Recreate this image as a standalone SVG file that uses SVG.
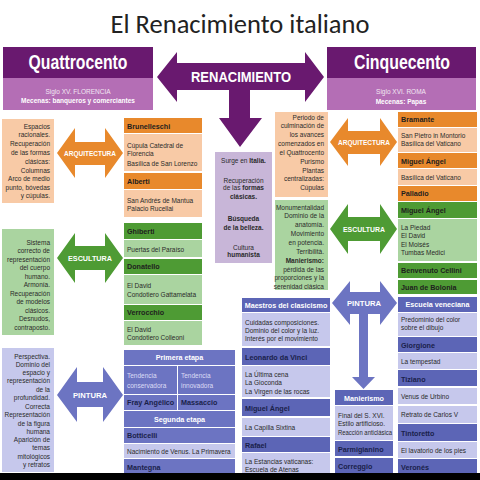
<svg xmlns="http://www.w3.org/2000/svg" width="480" height="480" viewBox="0 0 480 480">
<style>
text{font-family:"Liberation Sans Narrow","Arial Narrow","Liberation Sans",sans-serif;}
.t{font-family:"Carlito","Lato","Open Sans",sans-serif;font-size:26.5px;fill:#222;text-anchor:middle}
.d{font-size:6.5px;fill:#2a2a2a}
.e{text-anchor:end}
.m{text-anchor:middle}
.b{font-weight:bold}
.h{font-size:7.2px;font-weight:bold;fill:#1e1e1e}
.w{fill:#fff}
.lt{fill:#dcdcf6}
.ar{font-size:7.2px;font-weight:bold;fill:#fff;text-anchor:middle}
.pu{fill:#69196f}.mv{fill:#b46eb5}.cl{fill:#c8b6d8}
.or{fill:#e8892c}.pe{fill:#f8caa6}
.gr{fill:#4e9b34}.lg{fill:#aad4a0}
.bl{fill:#5c65b6}.mb{fill:#6c74c2}.lv{fill:#c6c8ec}
.nv{fill:#1a1f4a}
</style>
<rect width="480" height="480" fill="#fff"/>
<text class="t" x="240" y="33">El Renacimiento italiano</text>

<g id="connectors">
<path class="pu" d="M157,77 L177,52 L177,63 L305,63 L305,52 L324,77 L305,102 L305,90 L250,90 L250,118 L262,118 L240,147 L219,118 L229,118 L229,90 L177,90 L177,102 Z"/>
<text class="ar" x="241" y="82" style="font-size:15.5px" textLength="100" lengthAdjust="spacingAndGlyphs">RENACIMIENTO</text>
<polygon class="or" points="57,153 75,128 75,142 105,142 105,128 123,153 105,178 105,165 75,165 75,178"/>
<text class="ar" x="90" y="156" textLength="52" lengthAdjust="spacingAndGlyphs">ARQUITECTURA</text>
<polygon class="gr" points="57,258 75,233 75,246 105,246 105,233 123,258 105,283 105,270 75,270 75,283"/>
<text class="ar" x="90" y="261" textLength="44" lengthAdjust="spacingAndGlyphs">ESCULTURA</text>
<polygon class="mb" points="57,395 77,367 77,382 103,382 103,367 123,395 103,422 103,407 77,407 77,422"/>
<text class="ar" x="90" y="398" textLength="34" lengthAdjust="spacingAndGlyphs">PINTURA</text>
<polygon class="or" points="330,142 348,118 348,131 380,131 380,118 397,142 380,166 380,154 348,154 348,166"/>
<text class="ar" x="364" y="145" textLength="52" lengthAdjust="spacingAndGlyphs">ARQUITECTURA</text>
<polygon class="gr" points="330,229 348,204 348,217 380,217 380,204 397,229 380,254 380,241 348,241 348,254"/>
<text class="ar" x="364" y="232" textLength="42" lengthAdjust="spacingAndGlyphs">ESCULTURA</text>
<path class="mb" d="M332,303 L350,281 L350,292 L380,292 L380,281 L397,303 L380,325 L380,314 L368,314 L368,377 L375,377 L363.5,389 L352,377 L359,377 L359,314 L350,314 L350,325 Z"/>
<text class="ar" x="364" y="306" textLength="34" lengthAdjust="spacingAndGlyphs">PINTURA</text>
</g>

<g id="quattrocento">
<rect class="pu" x="3" y="47" width="150" height="31"/>
<rect class="mv" x="3" y="78" width="150" height="32"/>
<text class="b w m" x="78" y="69" style="font-size:20px" textLength="99" lengthAdjust="spacingAndGlyphs">Quattrocento</text>
<text class="d w m" x="78" y="94" style="fill:#f2e6f2">Siglo XV. FLORENCIA</text>
<text class="d w m b" x="78" y="103">Mecenas: banqueros y comerciantes</text>
</g>

<g id="cinquecento">
<rect class="pu" x="327" y="47" width="149" height="31"/>
<rect class="mv" x="327" y="78" width="149" height="32"/>
<text class="b w m" x="402" y="69" style="font-size:20px" textLength="96" lengthAdjust="spacingAndGlyphs">Cinquecento</text>
<text class="d w m" x="401" y="94" style="fill:#f2e6f2">Siglo XVI. ROMA</text>
<text class="d w m b" x="401" y="104">Mecenas: Papas</text>
</g>

<g id="renacimiento-centro">
<rect class="cl" x="215" y="152" width="57" height="111"/>
<text class="d m" x="243.5" y="162.5">Surge en <tspan class="b">Italia.</tspan></text>
<text class="d m" x="243.5" y="182.5">Recuperación</text>
<text class="d m" x="243.5" y="190"><tspan>de las </tspan><tspan class="b">formas</tspan></text>
<text class="d m b" x="243.5" y="198.5">clásicas.</text>
<text class="d m b" x="243.5" y="220.5">Búsqueda</text>
<text class="d m b" x="243.5" y="229.5">de la belleza.</text>
<text class="d m" x="243.5" y="249.5">Cultura</text>
<text class="d m b" x="243.5" y="257">humanista</text>
</g>

<g id="q-arquitectura">
<rect class="pe" x="2" y="119" width="52" height="84"/>
<text class="d e" x="50" y="128.5">Espacios</text>
<text class="d e" x="50" y="137">racionales.</text>
<text class="d e" x="50" y="146">Recuperación</text>
<text class="d e" x="50" y="155">de las formas</text>
<text class="d e" x="50" y="164">clásicas:</text>
<text class="d e" x="50" y="172.5">Columnas</text>
<text class="d e" x="50" y="180.5">Arco de medio</text>
<text class="d e" x="50" y="189.5">punto, bóvedas</text>
<text class="d e" x="50" y="197.5">y cúpulas.</text>
</g>

<g id="q-arq-lista">
<rect class="or" x="124" y="118" width="78" height="15"/>
<text class="h" x="127" y="128.5">Brunelleschi</text>
<rect class="pe" x="124" y="134" width="78" height="37"/>
<text class="d" x="127" y="147.5">Cúpula Catedral de</text>
<text class="d" x="127" y="155.5">Florencia</text>
<text class="d" x="127" y="165.5">Basílica de San Lorenzo</text>
<rect class="or" x="124" y="173" width="78" height="16"/>
<text class="h" x="127" y="184">Alberti</text>
<rect class="pe" x="124" y="190" width="78" height="27"/>
<text class="d" x="127" y="202.5">San Andrés de Mantua</text>
<text class="d" x="127" y="210.5">Palacio Rucellai</text>
</g>

<g id="q-escultura">
<rect class="lg" x="2" y="229" width="52" height="106"/>
<text class="d e" x="50" y="244.5">Sistema</text>
<text class="d e" x="50" y="253">correcto de</text>
<text class="d e" x="50" y="261.5">representación</text>
<text class="d e" x="50" y="270">del cuerpo</text>
<text class="d e" x="50" y="278.5">humano.</text>
<text class="d e" x="50" y="287">Armonía.</text>
<text class="d e" x="50" y="295.5">Recuperación</text>
<text class="d e" x="50" y="304">de modelos</text>
<text class="d e" x="50" y="312.5">clásicos.</text>
<text class="d e" x="50" y="321">Desnudos,</text>
<text class="d e" x="50" y="329.5">contraposto.</text>
</g>

<g id="q-esc-lista">
<rect class="gr" x="124" y="223" width="78" height="16"/>
<text class="h" x="127" y="234">Ghiberti</text>
<rect class="lg" x="124" y="240" width="78" height="17"/>
<text class="d" x="127" y="251.5">Puertas del Paraíso</text>
<rect class="gr" x="124" y="259" width="78" height="15"/>
<text class="h" x="127" y="269">Donatello</text>
<rect class="lg" x="124" y="275" width="78" height="29"/>
<text class="d" x="127" y="287.5">El David</text>
<text class="d" x="127" y="296.5">Condotiero Gattamelata</text>
<rect class="gr" x="124" y="305" width="78" height="15"/>
<text class="h" x="127" y="315">Verrocchio</text>
<rect class="lg" x="124" y="321" width="78" height="24"/>
<text class="d" x="127" y="331.5">El David</text>
<text class="d" x="127" y="339.5">Condotiero Colleoni</text>
</g>

<g id="q-pintura">
<rect class="lv" x="2" y="348" width="52" height="124"/>
<text class="d e" x="50" y="358.5">Perspectiva.</text>
<text class="d e" x="50" y="366.5">Dominio del</text>
<text class="d e" x="50" y="374.5">espacio y</text>
<text class="d e" x="50" y="382.5">representación</text>
<text class="d e" x="50" y="391.5">de la</text>
<text class="d e" x="50" y="399.5">profundidad.</text>
<text class="d e" x="50" y="408.5">Correcta</text>
<text class="d e" x="50" y="416.5">Representación</text>
<text class="d e" x="50" y="425.5">de la figura</text>
<text class="d e" x="50" y="433.5">humana</text>
<text class="d e" x="50" y="441.5">Aparición de</text>
<text class="d e" x="50" y="449.5">temas</text>
<text class="d e" x="50" y="458.5">mitológicos</text>
<text class="d e" x="50" y="466.5">y retratos</text>
</g>

<g id="q-pint-lista">
<rect class="mb" x="124" y="350" width="111" height="15"/>
<text class="h w m" x="179.5" y="360">Primera etapa</text>
<rect class="mb" x="124" y="366" width="53" height="28"/>
<rect class="mb" x="178" y="366" width="57" height="28"/>
<text class="d lt" x="127" y="377.5">Tendencia</text>
<text class="d lt" x="127" y="387.5">conservadora</text>
<text class="d lt" x="181" y="377.5">Tendencia</text>
<text class="d lt" x="181" y="387.5">innovadora</text>
<rect class="mb" x="124" y="395" width="53" height="15"/>
<rect class="mb" x="178" y="395" width="57" height="15"/>
<text class="h nv" x="127" y="405">Fray Angélico</text>
<text class="h nv" x="181" y="405">Massaccio</text>
<rect class="mb" x="124" y="411" width="111" height="16"/>
<text class="h w m" x="179.5" y="421.5">Segunda etapa</text>
<rect class="mb" x="124" y="428" width="111" height="15"/>
<text class="h nv" x="127" y="438">Botticelli</text>
<rect class="lv" x="124" y="444" width="111" height="14"/>
<text class="d" x="127" y="453.5">Nacimiento de Venus. La Primavera</text>
<rect class="mb" x="124" y="459" width="111" height="14"/>
<text class="h nv" x="127" y="470">Mantegna</text>
</g>

<g id="c-arquitectura">
<rect class="pe" x="275" y="112" width="53" height="85"/>
<text class="d e" x="324" y="119.5">Periodo de</text>
<text class="d e" x="324" y="127.5">culminación de</text>
<text class="d e" x="324" y="136.5">los avances</text>
<text class="d e" x="324" y="145.5">comenzados en</text>
<text class="d e" x="324" y="154.5">el Quattrocento</text>
<text class="d e" x="324" y="163.5">Purismo</text>
<text class="d e" x="324" y="172.5">Plantas</text>
<text class="d e" x="324" y="180.5">centralizadas:</text>
<text class="d e" x="324" y="189.5">Cúpulas</text>
</g>

<g id="c-arq-lista">
<rect class="or" x="398" y="112" width="79" height="15"/>
<text class="h" x="401" y="122">Bramante</text>
<rect class="pe" x="398" y="128" width="79" height="24"/>
<text class="d" x="401" y="137.5">San Pietro in Montorio</text>
<text class="d" x="401" y="145.5">Basílica del Vaticano</text>
<rect class="or" x="398" y="153" width="79" height="15"/>
<text class="h" x="401" y="163.5">Miguel Ángel</text>
<rect class="pe" x="398" y="169" width="79" height="16"/>
<text class="d" x="401" y="179.5">Basílica del Vaticano</text>
<rect class="or" x="398" y="186" width="79" height="15"/>
<text class="h" x="401" y="196">Palladio</text>
</g>

<g id="c-escultura">
<rect class="lg" x="275" y="200" width="53" height="90"/>
<text class="d e" x="324" y="209.5">Monumentalidad</text>
<text class="d e" x="324" y="218">Dominio de la</text>
<text class="d e" x="324" y="227">anatomía.</text>
<text class="d e" x="324" y="236">Movimiento</text>
<text class="d e" x="324" y="245">en potencia.</text>
<text class="d e" x="324" y="253.5">Terribilità.</text>
<text class="d e b" x="324" y="262.5">Manierismo:</text>
<text class="d e" x="324" y="271.5">pérdida de las</text>
<text class="d e" x="324" y="280">proporciones y la</text>
<text class="d e" x="324" y="289">serenidad clásica</text>
</g>

<g id="c-esc-lista">
<rect class="gr" x="398" y="202" width="79" height="16"/>
<text class="h" x="401" y="213">Miguel Ángel</text>
<rect class="lg" x="398" y="219" width="79" height="42"/>
<text class="d" x="401" y="229.5">La Piedad</text>
<text class="d" x="401" y="237.5">El David</text>
<text class="d" x="401" y="246.5">El Moisés</text>
<text class="d" x="401" y="254.5">Tumbas Medici</text>
<rect class="gr" x="398" y="263" width="79" height="15"/>
<text class="h" x="401" y="273">Benvenuto Cellini</text>
<rect class="gr" x="398" y="280" width="79" height="14"/>
<text class="h" x="401" y="290">Juan de Bolonia</text>
</g>

<g id="c-maestros">
<rect class="bl" x="242" y="298" width="88" height="14"/>
<text class="h w m" x="286" y="308">Maestros del clasicismo</text>
<rect class="lv" x="242" y="313" width="88" height="33"/>
<text class="d" x="245" y="324.5">Cuidadas composiciones.</text>
<text class="d" x="245" y="332.5">Dominio del color y la luz.</text>
<text class="d" x="245" y="340.5">Interés por el movimiento</text>
<rect class="bl" x="242" y="348" width="88" height="17"/>
<text class="h nv" x="245" y="359.5">Leonardo da Vinci</text>
<rect class="lv" x="242" y="366" width="88" height="31"/>
<text class="d" x="245" y="376.5">La Última cena</text>
<text class="d" x="245" y="385">La Gioconda</text>
<text class="d" x="245" y="393.5">La Virgen de las rocas</text>
<rect class="bl" x="242" y="399" width="88" height="17"/>
<text class="h nv" x="245" y="410.5">Miguel Ángel</text>
<rect class="lv" x="242" y="418" width="88" height="18"/>
<text class="d" x="245" y="429.5">La Capilla Sixtina</text>
<rect class="bl" x="242" y="437" width="88" height="15"/>
<text class="h nv" x="245" y="447.5">Rafael</text>
<rect class="lv" x="242" y="453" width="88" height="20"/>
<text class="d" x="245" y="463.5">La Estancias vaticanas:</text>
<text class="d" x="245" y="471.5">Escuela de Atenas</text>
</g>

<g id="c-manierismo">
<rect class="bl" x="335" y="390" width="58" height="15"/>
<text class="h w m" x="364" y="400.5">Manierismo</text>
<rect class="lv" x="335" y="406" width="58" height="34"/>
<text class="d" x="338" y="417.5">Final del S. XVI.</text>
<text class="d" x="338" y="426">Estilo artificioso.</text>
<text class="d" x="338" y="434.5" textLength="54" lengthAdjust="spacingAndGlyphs">Reacción anticlásica</text>
<rect class="bl" x="335" y="441" width="58" height="15"/>
<text class="h nv" x="338" y="451.5">Parmigianino</text>
<rect class="bl" x="335" y="458" width="58" height="15"/>
<text class="h nv" x="338" y="468.5">Correggio</text>
</g>

<g id="c-veneciana">
<rect class="bl" x="398" y="297" width="79" height="15"/>
<text class="h w m" x="437.5" y="307">Escuela veneciana</text>
<rect class="lv" x="398" y="313" width="79" height="23"/>
<text class="d" x="401" y="321.5">Predominio del color</text>
<text class="d" x="401" y="330">sobre el dibujo</text>
<rect class="bl" x="398" y="337" width="79" height="15"/>
<text class="h nv" x="401" y="347.5">Giorgione</text>
<rect class="lv" x="398" y="353" width="79" height="16"/>
<text class="d" x="401" y="363.5">La tempestad</text>
<rect class="bl" x="398" y="370" width="79" height="16"/>
<text class="h nv" x="401" y="381.5">Tiziano</text>
<rect class="lv" x="398" y="388" width="79" height="16"/>
<text class="d" x="401" y="398.5">Venus de Urbino</text>
<rect class="lv" x="398" y="406" width="79" height="17"/>
<text class="d" x="401" y="416.5">Retrato de Carlos V</text>
<rect class="bl" x="398" y="424" width="79" height="17"/>
<text class="h nv" x="401" y="435.5">Tintoretto</text>
<rect class="lv" x="398" y="442" width="79" height="16"/>
<text class="d" x="401" y="453">El lavatorio de los pies</text>
<rect class="bl" x="398" y="459" width="79" height="14"/>
<text class="h nv" x="401" y="470">Veronés</text>
</g>

<rect x="0" y="473" width="480" height="7" fill="#000"/>
</svg>
